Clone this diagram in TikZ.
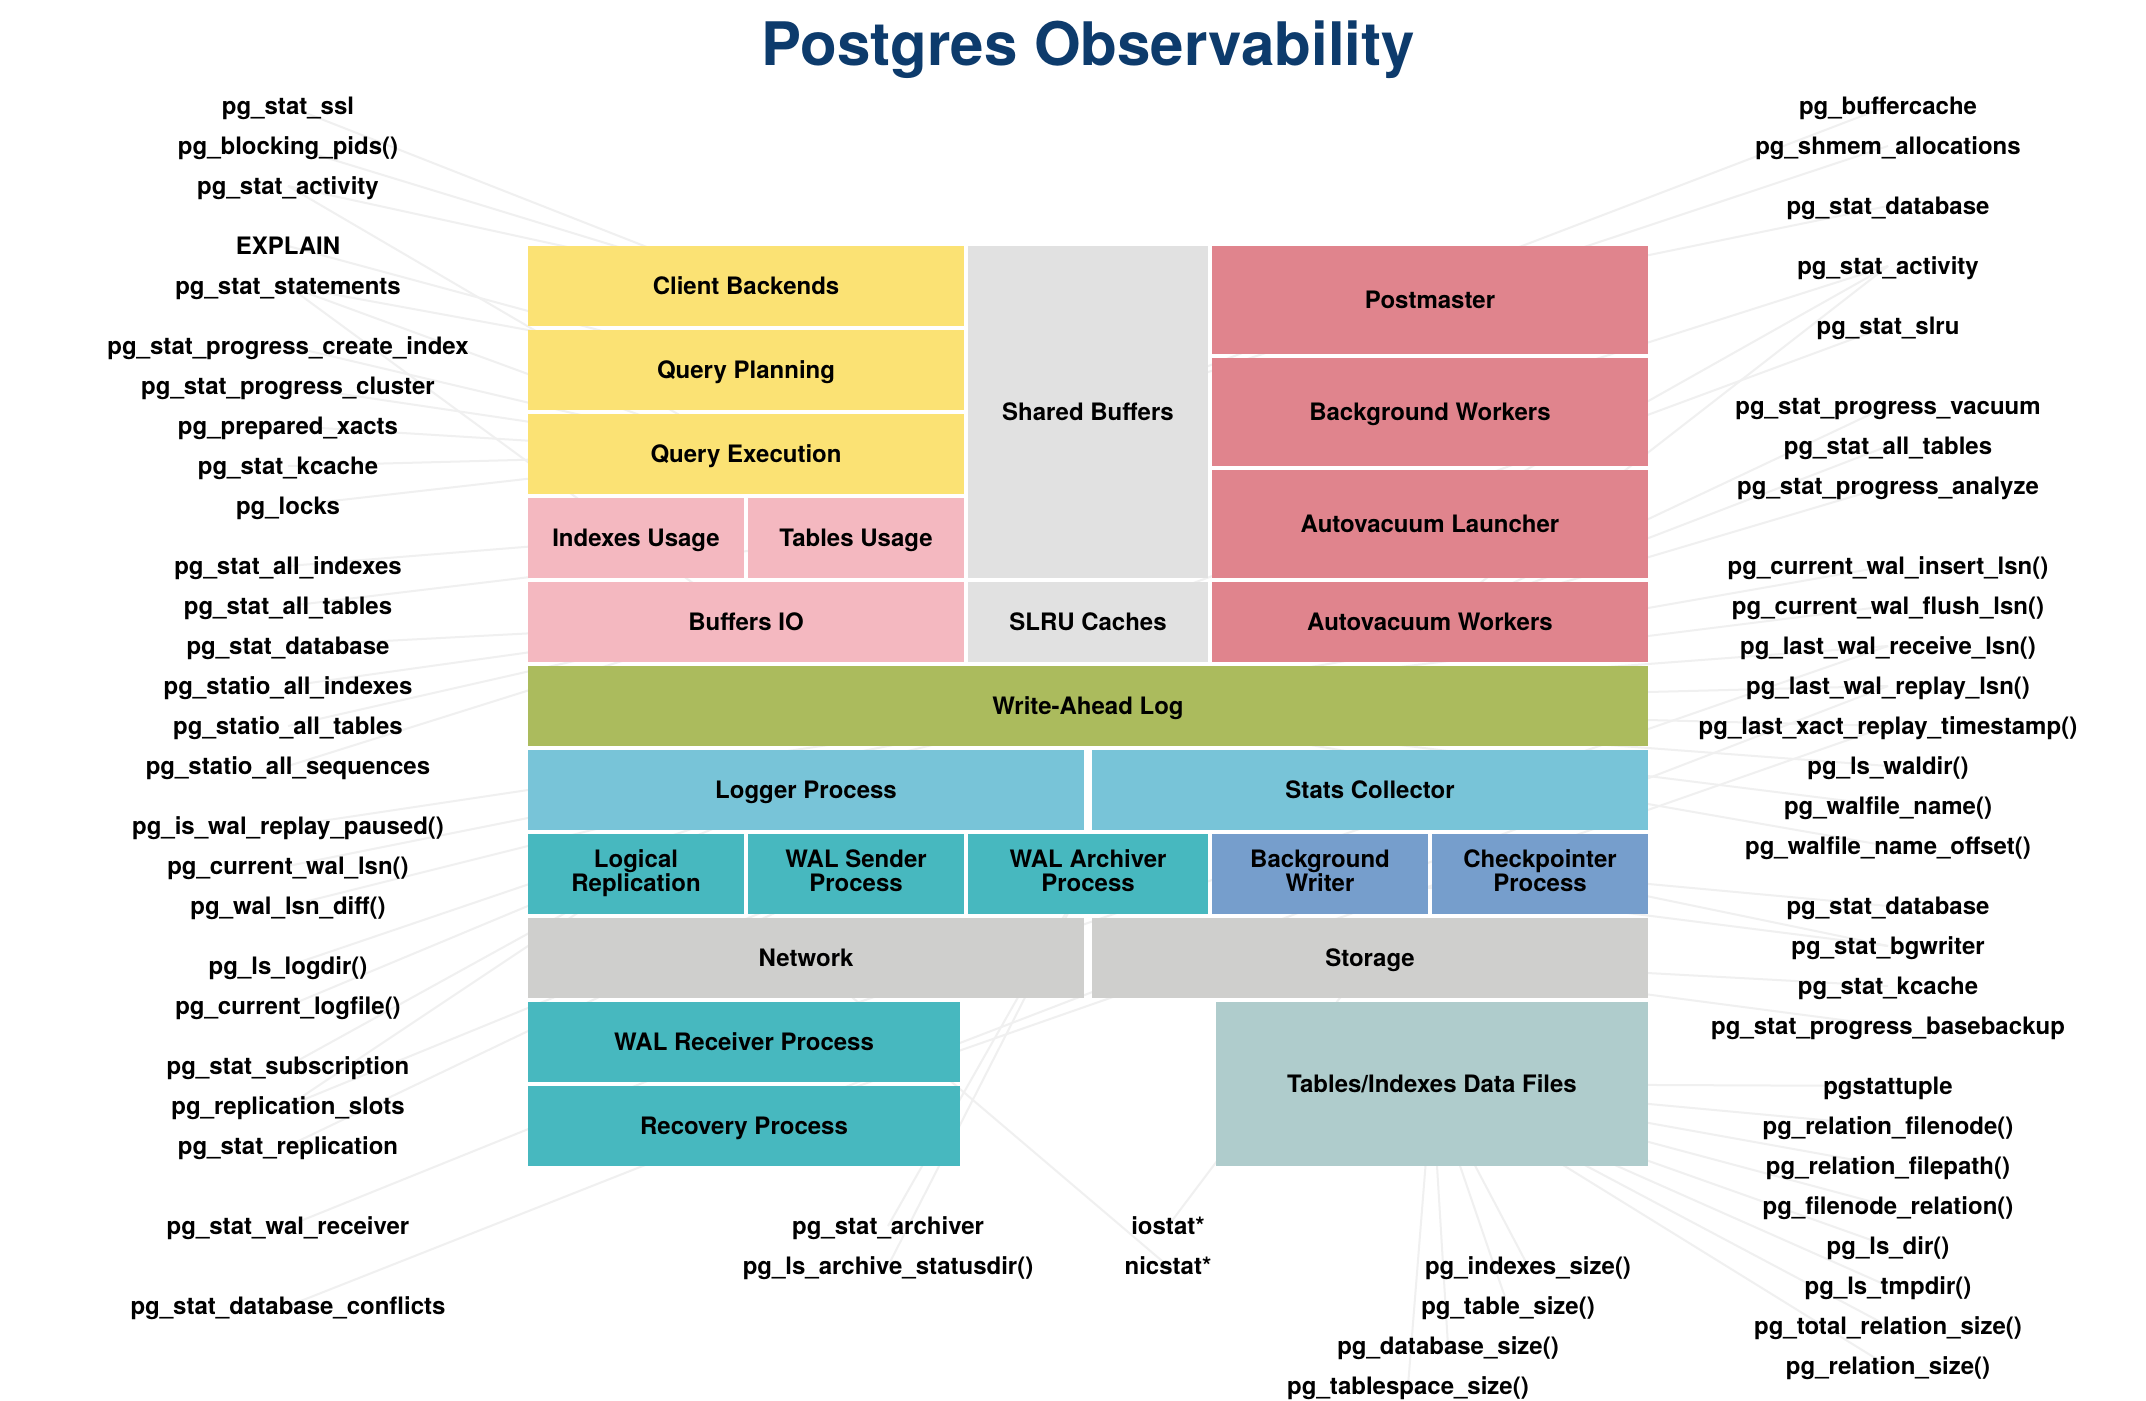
\documentclass[tikz,border=0pt]{standalone}
\usepackage{fontspec}
\setmainfont{TeX Gyre Heros}
\pgfdeclarelayer{bg}
\pgfsetlayers{bg,main}
\definecolor{cyellow}{RGB}{251,226,116}
\definecolor{cpink}{RGB}{244,184,192}
\definecolor{cred}{RGB}{224,132,141}
\definecolor{cgray}{RGB}{225,225,225}
\definecolor{colive}{RGB}{171,187,93}
\definecolor{clblue}{RGB}{120,196,216}
\definecolor{cteal}{RGB}{71,184,191}
\definecolor{cblue}{RGB}{118,158,204}
\definecolor{cstore}{RGB}{207,207,205}
\definecolor{cdata}{RGB}{175,204,204}
\definecolor{ctitle}{RGB}{13,59,108}
\definecolor{clink}{RGB}{240,240,240}
\newcommand{\tp}{\rule{0pt}{22pt}}
\newcommand{\bt}{\rule[-6pt]{0pt}{0pt}}
\tikzset{
  base/.style={inner sep=0pt,outer sep=0pt,align=center,
    font=\fontsize{24}{24}\selectfont\bfseries,text=black,
    execute at begin node=\tp,execute at end node=\bt},
  metric/.style={base},
  box/.style={base,minimum width=#1},
  box/.default=436pt,
  link/.style={draw=clink,line width=2pt},
}
\begin{document}
\begin{tikzpicture}[x=1pt,y=-1pt]
\useasboundingbox (0,0) rectangle (2146,1400);
\begin{pgfonlayer}{bg}
\fill[white] (0,0) rectangle (2146,1400);
\end{pgfonlayer}
\node[inner sep=0pt,font=\fontsize{60}{60}\selectfont\bfseries,text=ctitle] (title) at (1088,50) {Postgres Observability};
% boxes
\tikzset{h80/.style={minimum height=80pt},h108/.style={minimum height=108pt}}
\node[box,h80,fill=cyellow] (client) at (746,286) {Client Backends};
\node[box,h80,fill=cyellow] (planning) at (746,370) {Query Planning};
\node[box,h80,fill=cyellow] (execution) at (746,454) {Query Execution};
\node[box=216pt,h80,fill=cpink] (indexes) at (636,538) {Indexes Usage};
\node[box=216pt,h80,fill=cpink] (tables) at (856,538) {Tables Usage};
\node[box,h80,fill=cpink] (buffers) at (746,622) {Buffers IO};
\node[box=240pt,minimum height=332pt,fill=cgray] (shared) at (1088,412) {Shared Buffers};
\node[box=240pt,h80,fill=cgray] (slru) at (1088,622) {SLRU Caches};
\node[box,h108,fill=cred] (postmaster) at (1430,300) {Postmaster};
\node[box,h108,fill=cred] (bgworkers) at (1430,412) {Background Workers};
\node[box,h108,fill=cred] (avlauncher) at (1430,524) {Autovacuum Launcher};
\node[box,h80,fill=cred] (avworkers) at (1430,622) {Autovacuum Workers};
\node[box=1120pt,h80,fill=colive] (wal) at (1088,706) {Write-Ahead Log};
\node[box=556pt,h80,fill=clblue] (logger) at (806,790) {Logger Process};
\node[box=556pt,h80,fill=clblue] (stats) at (1370,790) {Stats Collector};
\node[box=216pt,h80,fill=cteal] (logical) at (636,874) {Logical\\Replication};
\node[box=216pt,h80,fill=cteal] (sender) at (856,874) {WAL Sender\\Process};
\node[box=240pt,h80,fill=cteal] (archiver) at (1088,874) {WAL Archiver\\Process};
\node[box=216pt,h80,fill=cblue] (bgwriter) at (1320,874) {Background\\Writer};
\node[box=216pt,h80,fill=cblue] (checkpointer) at (1540,874) {Checkpointer\\Process};
\node[box=556pt,h80,fill=cstore] (network) at (806,958) {Network};
\node[box=556pt,h80,fill=cstore] (storage) at (1370,958) {Storage};
\node[box=432pt,h80,fill=cteal] (receiver) at (744,1042) {WAL Receiver Process};
\node[box=432pt,h80,fill=cteal] (recovery) at (744,1126) {Recovery Process};
\node[box=432pt,minimum height=164pt,fill=cdata] (datafiles) at (1432,1084) {Tables/Indexes Data Files};
% left metrics
\node[metric] (a1) at (288,106) {pg\_stat\_ssl};
\node[metric] (a2) at (288,146) {pg\_blocking\_pids()};
\node[metric] (a3) at (288,186) {pg\_stat\_activity};
\node[metric] (a4) at (288,246) {EXPLAIN};
\node[metric] (a5) at (288,286) {pg\_stat\_statements};
\node[metric] (a6) at (288,346) {pg\_stat\_progress\_create\_index};
\node[metric] (a7) at (288,386) {pg\_stat\_progress\_cluster};
\node[metric] (a8) at (288,426) {pg\_prepared\_xacts};
\node[metric] (a9) at (288,466) {pg\_stat\_kcache};
\node[metric] (a10) at (288,506) {pg\_locks};
\node[metric] (a11) at (288,566) {pg\_stat\_all\_indexes};
\node[metric] (a12) at (288,606) {pg\_stat\_all\_tables};
\node[metric] (a13) at (288,646) {pg\_stat\_database};
\node[metric] (a14) at (288,686) {pg\_statio\_all\_indexes};
\node[metric] (a15) at (288,726) {pg\_statio\_all\_tables};
\node[metric] (a16) at (288,766) {pg\_statio\_all\_sequences};
\node[metric] (a17) at (288,826) {pg\_is\_wal\_replay\_paused()};
\node[metric] (a18) at (288,866) {pg\_current\_wal\_lsn()};
\node[metric] (a19) at (288,906) {pg\_wal\_lsn\_diff()};
\node[metric] (a20) at (288,966) {pg\_ls\_logdir()};
\node[metric] (a21) at (288,1006) {pg\_current\_logfile()};
\node[metric] (a22) at (288,1066) {pg\_stat\_subscription};
\node[metric] (a23) at (288,1106) {pg\_replication\_slots};
\node[metric] (a24) at (288,1146) {pg\_stat\_replication};
\node[metric] (a25) at (288,1226) {pg\_stat\_wal\_receiver};
\node[metric] (a26) at (288,1306) {pg\_stat\_database\_conflicts};
% right metrics
\node[metric] (b1) at (1888,106) {pg\_buffercache};
\node[metric] (b2) at (1888,146) {pg\_shmem\_allocations};
\node[metric] (b3) at (1888,206) {pg\_stat\_database};
\node[metric] (b4) at (1888,266) {pg\_stat\_activity};
\node[metric] (b5) at (1888,326) {pg\_stat\_slru};
\node[metric] (b6) at (1888,406) {pg\_stat\_progress\_vacuum};
\node[metric] (b7) at (1888,446) {pg\_stat\_all\_tables};
\node[metric] (b8) at (1888,486) {pg\_stat\_progress\_analyze};
\node[metric] (b9) at (1888,566) {pg\_current\_wal\_insert\_lsn()};
\node[metric] (b10) at (1888,606) {pg\_current\_wal\_flush\_lsn()};
\node[metric] (b11) at (1888,646) {pg\_last\_wal\_receive\_lsn()};
\node[metric] (b12) at (1888,686) {pg\_last\_wal\_replay\_lsn()};
\node[metric] (b13) at (1888,726) {pg\_last\_xact\_replay\_timestamp()};
\node[metric] (b14) at (1888,766) {pg\_ls\_waldir()};
\node[metric] (b15) at (1888,806) {pg\_walfile\_name()};
\node[metric] (b16) at (1888,846) {pg\_walfile\_name\_offset()};
\node[metric] (b17) at (1888,906) {pg\_stat\_database};
\node[metric] (b18) at (1888,946) {pg\_stat\_bgwriter};
\node[metric] (b19) at (1888,986) {pg\_stat\_kcache};
\node[metric] (b20) at (1888,1026) {pg\_stat\_progress\_basebackup};
\node[metric] (b21) at (1888,1086) {pgstattuple};
\node[metric] (b22) at (1888,1126) {pg\_relation\_filenode()};
\node[metric] (b23) at (1888,1166) {pg\_relation\_filepath()};
\node[metric] (b24) at (1888,1206) {pg\_filenode\_relation()};
\node[metric] (b25) at (1888,1246) {pg\_ls\_dir()};
\node[metric] (b26) at (1888,1286) {pg\_ls\_tmpdir()};
\node[metric] (b27) at (1888,1326) {pg\_total\_relation\_size()};
\node[metric] (b28) at (1888,1366) {pg\_relation\_size()};
% bottom metrics
\node[metric] (c1) at (888,1226) {pg\_stat\_archiver};
\node[metric] (c2) at (888,1266) {pg\_ls\_archive\_statusdir()};
\node[metric] (c3) at (1168,1226) {iostat*};
\node[metric] (c4) at (1168,1266) {nicstat*};
\node[metric] (c5) at (1528,1266) {pg\_indexes\_size()};
\node[metric] (c6) at (1508,1306) {pg\_table\_size()};
\node[metric] (c7) at (1448,1346) {pg\_database\_size()};
\node[metric] (c8) at (1408,1386) {pg\_tablespace\_size()};
% connectors
\begin{pgfonlayer}{bg}
\foreach \u/\v in {a1/client,a2/client,a3/client,a3/execution,a4/planning,a5/planning,a5/execution,a5/buffers,
  a6/execution,a7/execution,a8/execution,a9/execution,a10/execution,
  a11/indexes,a12/tables,a13/buffers,a14/buffers,a15/buffers,a16/buffers,
  a17/wal,a18/wal,a19/wal,a20/logger,a21/logger,a22/logical,a23/logical,a23/sender,a24/sender,
  a25/receiver,a26/recovery,
  b1/shared,b2/shared,b3/postmaster,b4/bgworkers,b4/avlauncher,b4/avworkers,b5/slru,
  b6/avworkers,b7/avworkers,b8/avworkers,
  b9/wal,b10/wal,b11/wal,b12/wal,b13/wal,b14/wal,b15/wal,b16/wal,
  b11/receiver,b12/recovery,b13/recovery,
  b17/checkpointer,b18/checkpointer,b18/bgwriter,b19/storage,b20/storage,
  b21/datafiles,b22/datafiles,b23/datafiles,b24/datafiles,b25/datafiles,b26/datafiles,b27/datafiles,b28/datafiles,
  c1/archiver,c2/archiver,c3/storage,c4/network,c5/datafiles,c6/datafiles,c7/datafiles,c8/datafiles}
  \draw[link] (\u.center) -- (\v.center);
\end{pgfonlayer}
\end{tikzpicture}
\end{document}
